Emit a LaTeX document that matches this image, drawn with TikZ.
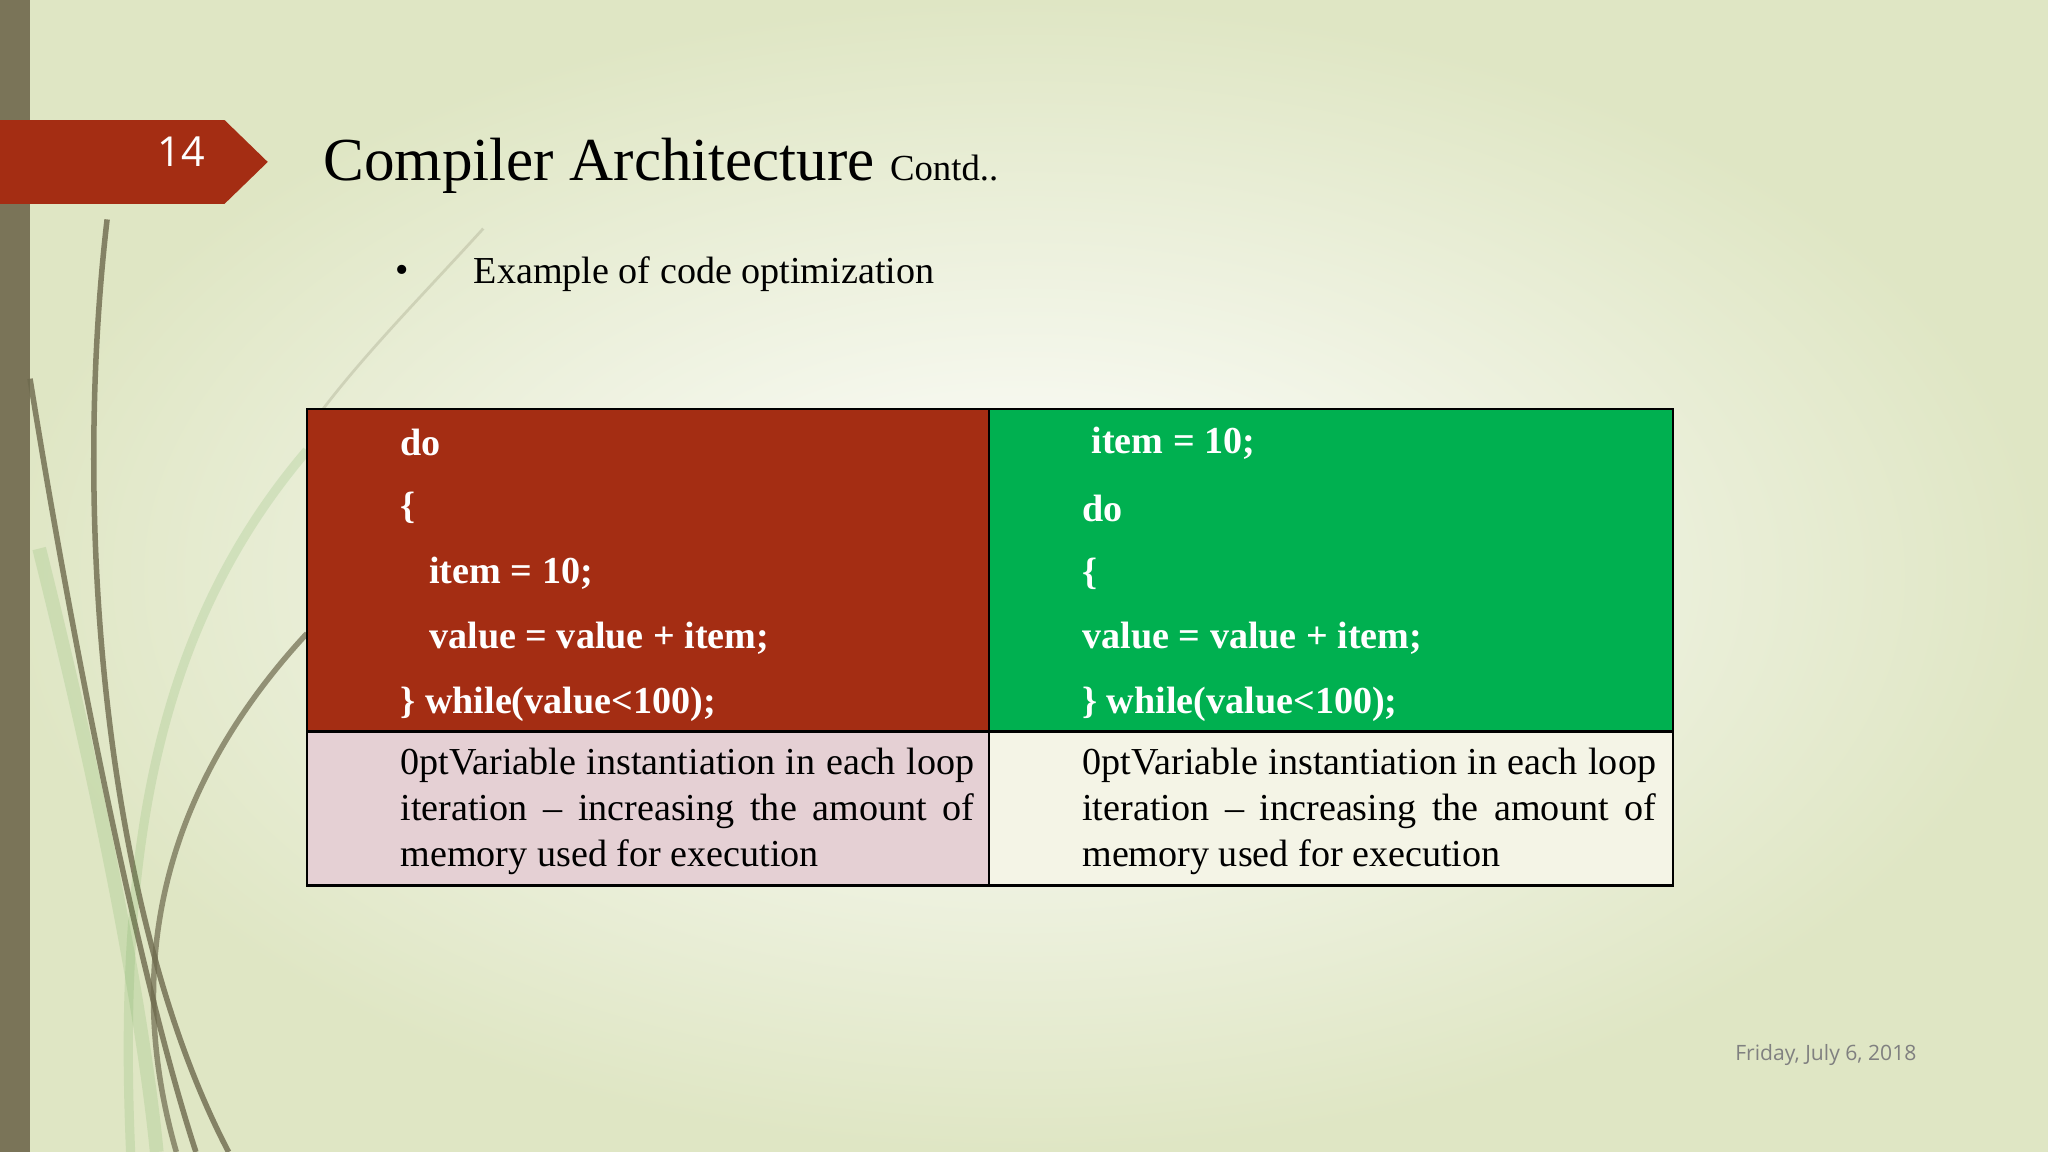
\documentclass[tikz,border=0pt]{standalone}
\usepackage{fontspec}
\setmainfont{Liberation Serif}
\newfontfamily\datefont{Open Sans}
\definecolor{tagred}{HTML}{A42D13}
\definecolor{cellgreen}{HTML}{00B050}
\definecolor{cellpink}{HTML}{E5D0D4}
\definecolor{cellcream}{HTML}{F4F4E6}
\definecolor{olive}{HTML}{7A7458}
\definecolor{bgedge}{HTML}{DFE6C4}
\definecolor{curve}{HTML}{6E6A4E}
\tikzset{
 code/.style={anchor=west,text=white,font=\fontsize{8.3}{9}\selectfont\bfseries,inner sep=0pt},
 desc/.style={anchor=north west,text width=4.39cm,align=justify,font=\fontsize{8.3}{10}\selectfont\hyphenpenalty=10000\exhyphenpenalty=10000,inner sep=0pt},
 cell/.style={draw=black,line width=0.5pt}
}
\begin{document}
\begin{tikzpicture}[x=0.01cm,y=-0.01cm]
\useasboundingbox (0,0) rectangle (1568,882);
\shade[inner color=white,outer color=bgedge] (0,0) rectangle (1568,882);
\fill[olive] (0,0) rectangle (23,882);
\begin{scope}[curve,line width=1.2pt]
\draw[opacity=0.8] (82,168) .. controls (55,400) and (80,700) .. (175,882);
\draw[opacity=0.8] (23,290) .. controls (60,520) and (110,760) .. (150,882);
\draw[opacity=0.7] (235,485) .. controls (110,620) and (100,760) .. (135,882);
\draw[opacity=0.15,line width=3pt,green!30!olive] (30,420) .. controls (80,620) and (110,780) .. (120,882);
\draw[opacity=0.15,line width=2pt,green!30!olive] (235,345) .. controls (120,480) and (90,650) .. (100,882);
\draw[opacity=0.2,line width=0.6pt] (370,175) .. controls (320,230) and (270,280) .. (235,330);
\end{scope}
\fill[tagred] (0,92) -- (172,92) -- (205,124) -- (172,156) -- (0,156) -- cycle;
\node[text=white,font=\datefont\fontsize{9}{10}\selectfont] (num) at (139,116) {14};
\node[anchor=base west,inner sep=0pt,font=\fontsize{13.3}{16}\selectfont] (title) at (247,138) {Compiler Architecture \fontsize{8}{10}\selectfont Contd..};
\node[inner sep=0pt,font=\fontsize{8.3}{10}\selectfont] (bul) at (308,210) {•};
\node[anchor=west,inner sep=0pt,font=\fontsize{8.3}{10}\selectfont] (sub) at (362,210) {Example of code optimization};
\fill[tagred] (235,313) rectangle (757,560);
\fill[cellgreen] (757,313) rectangle (1281,560);
\fill[cellpink] (235,560) rectangle (757,678);
\fill[cellcream] (757,560) rectangle (1281,678);
\draw[cell] (235,313) rectangle (1281,678);
\draw[cell] (757,313) -- (757,678);
\draw[cell] (235,560) -- (1281,560);
\node[code] (l1) at (306,339) {do};
\node[code] (l2) at (306,389) {\{};
\node[code] (l3) at (328,439) {item = 10;};
\node[code] (l4) at (328,489) {value = value + item;};
\node[code] (l5) at (306,539) {\} while(value<100);};
\node[code] (r1) at (835,339) {item = 10;};
\node[code] (r2) at (828,389) {do};
\node[code] (r3) at (828,439) {\{};
\node[code] (r4) at (828,489) {value = value + item;};
\node[code] (r5) at (828,539) {\} while(value<100);};
\node[desc] (dl) at (306,572) {Variable instantiation in each loop iteration – increasing the amount of memory used for execution};
\node[desc] (dr) at (828,572) {Variable instantiation in each loop iteration – increasing the amount of memory used for execution};
\node[anchor=east,inner sep=0pt,text=gray,font=\datefont\fontsize{4.6}{6}\selectfont] (date) at (1468,808) {Friday, July 6, 2018};
\end{tikzpicture}
\end{document}
